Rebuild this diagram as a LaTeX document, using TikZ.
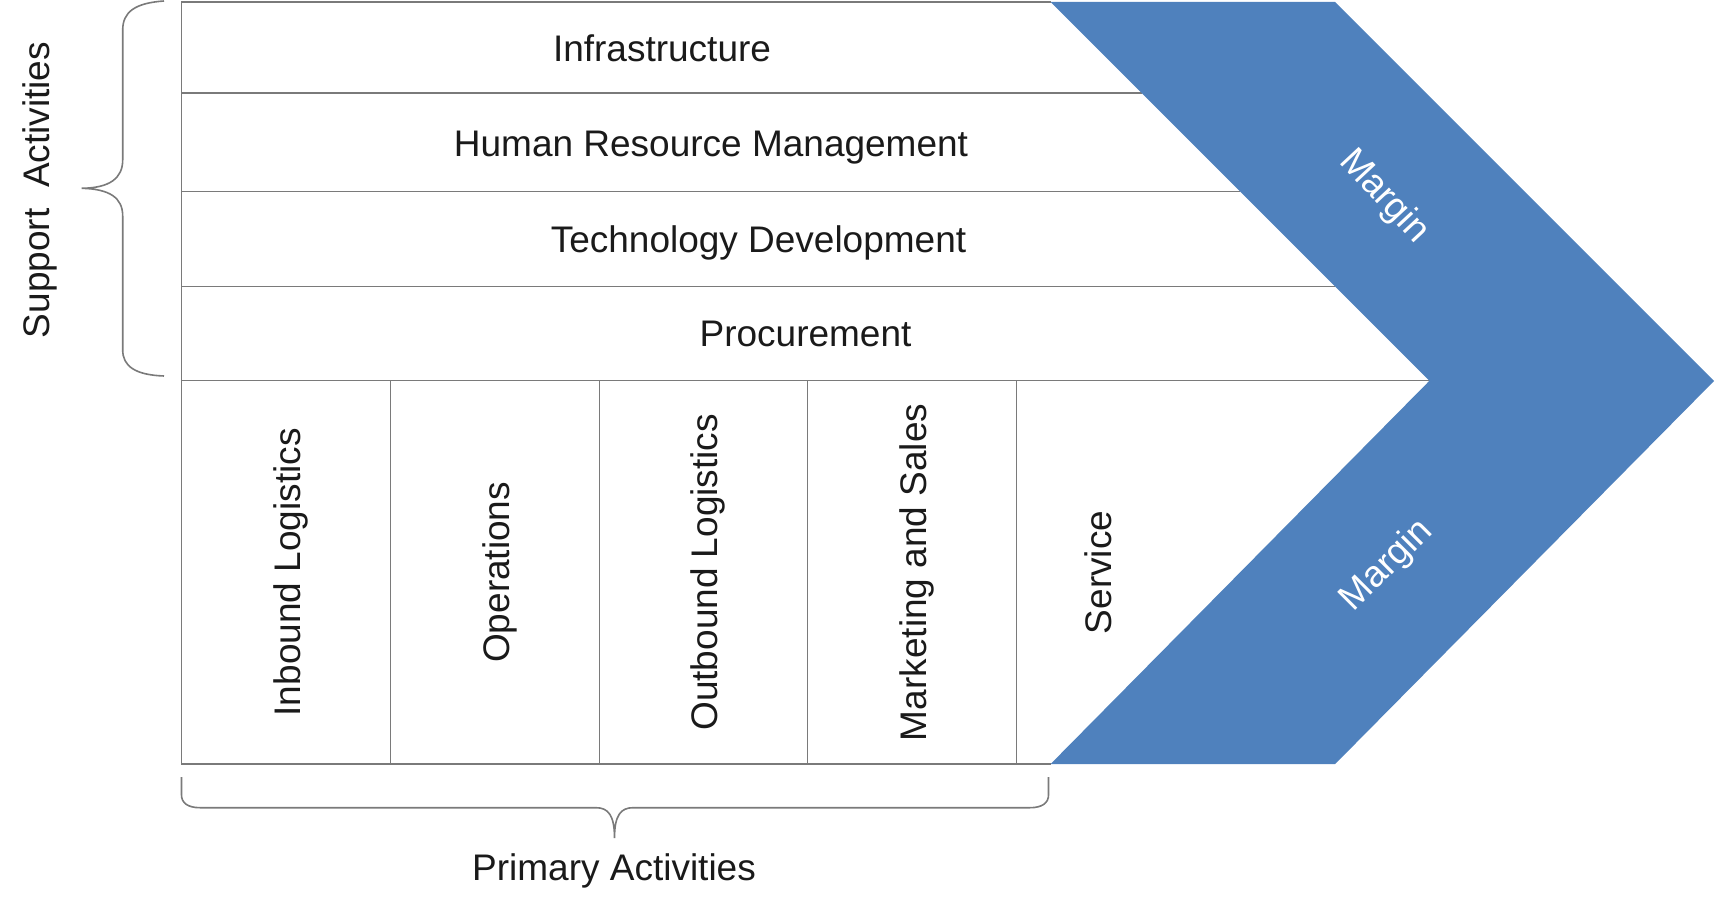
\documentclass[tikz,border=0pt]{standalone}
\usepackage{fontspec}
\setmainfont{Liberation Sans}
\definecolor{linegray}{HTML}{7A7A7A}
\definecolor{chevblue}{HTML}{4F81BD}
\definecolor{txt}{HTML}{1A1A1A}
\begin{document}
\begin{tikzpicture}[x=0.5pt,y=-0.5pt,
  gridline/.style={draw=linegray, line width=0.55pt},
  bracepath/.style={draw=linegray, line width=0.8pt},
  lbl/.style={text=txt, font=\fontsize{18.5}{22}\selectfont, inner sep=0pt},
  vlbl/.style={lbl, rotate=90},
  mlbl/.style={text=white, font=\fontsize{18.5}{22}\selectfont, inner sep=0pt}]
\useasboundingbox (0,0) rectangle (1716,913);
% table frame and rows
\draw[gridline] (1050.6,2) -- (181.7,2) -- (181.7,764) -- (1050.6,764);
\draw[gridline] (181.7,93) -- (1141.6,93);
\draw[gridline] (181.7,191.5) -- (1240.1,191.5);
\draw[gridline] (181.7,286.7) -- (1335.3,286.7);
\draw[gridline] (181.7,380.8) -- (1429.4,380.8);
% columns
\foreach \cx in {390.7,599.7,807.7,1016.7}
  \draw[gridline] (\cx,380.8) -- (\cx,764);
% chevron
\fill[chevblue] (1050.6,2) -- (1335.2,2) -- (1714,381) -- (1335.2,764) -- (1050.6,764) -- (1429.4,380.8) -- cycle;
% support labels
\node[lbl] (infra) at (662,48) {Infrastructure};
\node[lbl] (hrm) at (711,147.5) {Human Resource Management};
\node[lbl] (tech) at (758.5,242.5) {Technology Development};
\node[lbl] (proc) at (805.5,333.5) {Procurement};
% primary labels
\node[vlbl] (inb) at (290.6,572.4) {Inbound Logistics};
\node[vlbl] (ops) at (499.6,572.4) {Operations};
\node[vlbl] (outb) at (707.6,572.4) {Outbound Logistics};
\node[vlbl] (mark) at (916.6,572.4) {Marketing and Sales};
\node[vlbl] (serv) at (1098,572.4) {Service};
% margin labels
\node[mlbl, rotate=-47] (m1) at (1384,197) {Margin};
\node[mlbl, rotate=45] (m2) at (1387,566) {Margin};
% braces
\draw[bracepath] (164,1) .. controls (135,3) and (122.7,12) .. (122.7,30) -- (122.7,160)
  .. controls (122.7,178) and (110,188) .. (81.7,188.3)
  .. controls (110,189) and (122.7,198) .. (122.7,216) -- (122.7,350)
  .. controls (122.7,366) and (135,375) .. (164,376);
\draw[bracepath] (181.5,777) -- (181.5,795) .. controls (181.5,803) and (188,807.7) .. (200,807.7)
  -- (596,807.7) .. controls (608,807.7) and (614.5,815) .. (614.5,838)
  .. controls (614.5,815) and (621,807.7) .. (633,807.7)
  -- (1030,807.7) .. controls (1042,807.7) and (1048.5,803) .. (1048.5,795) -- (1048.5,777);
\node[vlbl] (supp) at (39.5,190) {Support\ \ Activities};
\node[lbl] (prim) at (614,871) {Primary Activities};
\end{tikzpicture}
\end{document}
